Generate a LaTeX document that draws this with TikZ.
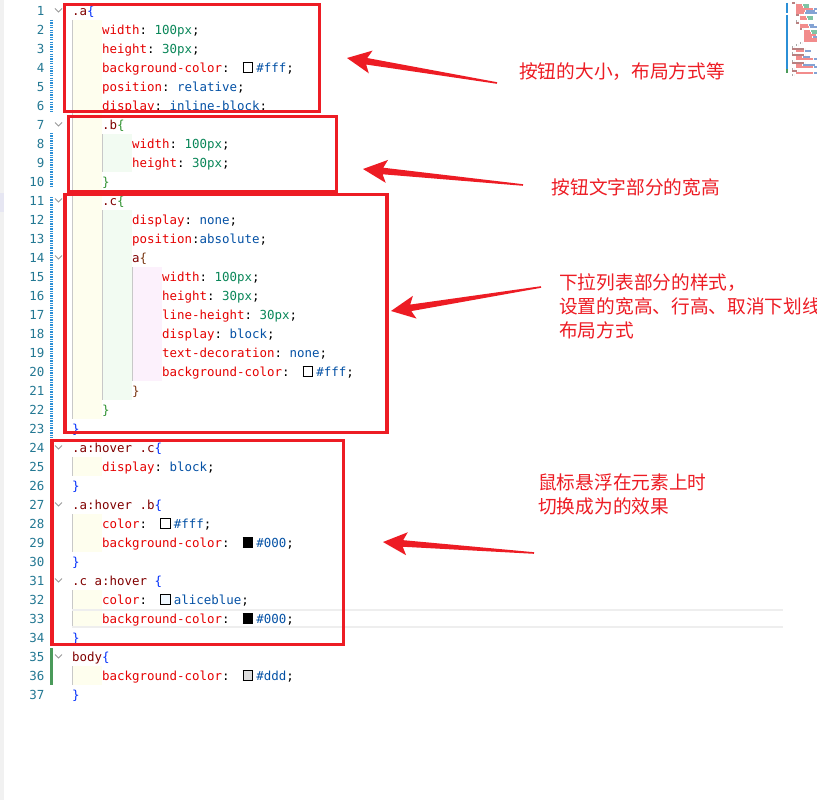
\documentclass[tikz,border=0pt]{standalone}
\usepackage{fontspec}
\usetikzlibrary{calc}
\newfontfamily\codefont{DejaVu Sans Mono}
\newfontfamily\cjk{Noto Sans CJK SC}
\definecolor{csel}{HTML}{800000}
\definecolor{cprop}{HTML}{E50000}
\definecolor{cnum}{HTML}{098658}
\definecolor{cval}{HTML}{0451A5}
\definecolor{cba}{HTML}{0431FA}
\definecolor{cbb}{HTML}{319331}
\definecolor{cbc}{HTML}{7B3814}
\definecolor{clnum}{HTML}{237893}
\definecolor{cred}{HTML}{ED1C24}
\definecolor{tinta}{HTML}{FEFEEE}
\definecolor{tintb}{HTML}{F2FBF2}
\definecolor{tintc}{HTML}{FCF1FC}
\definecolor{guide}{HTML}{C8C8C8}
\definecolor{hl}{HTML}{EEEEEE}
\definecolor{chev}{HTML}{9A9A9A}
\definecolor{modblue}{HTML}{2B8FD6}
\definecolor{modgreen}{HTML}{4A9A5A}
\definecolor{leftgray}{HTML}{F1F1F1}
\definecolor{leftlav}{HTML}{E6E6F2}
\definecolor{alice}{HTML}{F0F8FF}
\definecolor{gddd}{HTML}{DDDDDD}
\definecolor{mmred}{HTML}{F28C8C}
\definecolor{mmgreen}{HTML}{7FC4A4}
\definecolor{mmblue}{HTML}{84A3D4}
\definecolor{mmsel}{HTML}{B98080}
\definecolor{mmgray}{HTML}{A8A8A8}
\newcommand\Sel[1]{\textcolor{csel}{#1}}
\newcommand\Prp[1]{\textcolor{cprop}{#1}}
\newcommand\Num[1]{\textcolor{cnum}{#1}}
\newcommand\Val[1]{\textcolor{cval}{#1}}
\newcommand\Ba[1]{\textcolor{cba}{#1}}
\newcommand\Bb[1]{\textcolor{cbb}{#1}}
\newcommand\Bc[1]{\textcolor{cbc}{#1}}
\newcommand\swbox[1]{\hspace{5.5pt}\raisebox{0.5pt}{\setlength\fboxsep{0pt}\setlength\fboxrule{0.8pt}\fcolorbox{black}{#1}{\rule{0pt}{8.6pt}\hspace{8.9pt}}}\hspace{3.2pt}}
\newcommand\fatarrow[2]{%
  \coordinate (aN) at ($(#2)!20pt!(#1)$);
  \coordinate (aH) at ($(#2)!24pt!(#1)$);
  \fill[cred] ($(#1)!0.8pt!-90:(#2)$) -- ($(aN)!3.3pt!90:(#1)$) -- ($(aH)!11.5pt!90:(#1)$) -- (#2) -- ($(aH)!11.5pt!-90:(#1)$) -- ($(aN)!3.3pt!-90:(#1)$) -- ($(#1)!0.8pt!90:(#2)$) -- cycle;}
\tikzset{
  code/.style={inner sep=0pt, anchor=base west, font=\codefont\fontsize{12.45pt}{15pt}\selectfont\frenchspacing},
  lnum/.style={inner sep=0pt, anchor=base east, text=clnum, font=\codefont\fontsize{12.45pt}{15pt}\selectfont},
  note/.style={inner sep=0pt, anchor=west, text=cred, font=\cjk\fontsize{18.7pt}{22pt}\selectfont},
  redbox/.style={draw=cred, line width=3.3pt},
  chevron/.style={draw=chev, line width=0.8pt},
}
\begin{document}
\begin{tikzpicture}[x=1pt,y=-1pt]
\useasboundingbox (0,0) rectangle (817,800);
\fill[white] (0,0) rectangle (817,800);
% left strip
\fill[leftgray] (0,0) rectangle (3.5,800);
\fill[leftlav] (0,193) rectangle (3.5,212);
% indentation tints
\fill[tinta] (72,20) rectangle (102,419);
\fill[tinta] (72,457) rectangle (102,476);
\fill[tinta] (72,514) rectangle (102,552);
\fill[tinta] (72,590) rectangle (102,628);
\fill[tinta] (72,666) rectangle (102,685);
\fill[tintb] (102,134) rectangle (132,172);
\fill[tintb] (102,210) rectangle (132,400);
\fill[tintc] (132,267) rectangle (162,381);
% indent guides
\draw[guide, line width=0.8pt] (72.4,20) -- (72.4,419);
\draw[guide, line width=0.8pt] (72.4,457) -- (72.4,476);
\draw[guide, line width=0.8pt] (72.4,514) -- (72.4,552);
\draw[guide, line width=0.8pt] (72.4,590) -- (72.4,628);
\draw[guide, line width=0.8pt] (72.4,666) -- (72.4,685);
\draw[guide, line width=0.8pt] (102.4,134) -- (102.4,172);
\draw[guide, line width=0.8pt] (102.4,210) -- (102.4,400);
\draw[guide, line width=0.8pt] (132.4,267) -- (132.4,381);
% current line highlight (line 33)
\draw[hl, line width=2pt] (72,610) -- (783,610);
\draw[hl, line width=2pt] (72,627) -- (783,627);
% modified bars
\draw[modblue, line width=2.6pt, dash pattern=on 1.3pt off 1.1pt] (51.5,20) -- (51.5,113);
\draw[modblue, line width=2.6pt, dash pattern=on 1.3pt off 1.1pt] (51.5,133) -- (51.5,187);
\draw[modblue, line width=2.6pt, dash pattern=on 1.3pt off 1.1pt] (51.5,197) -- (51.5,438);
\draw[modgreen, line width=2.6pt] (51.5,648) -- (51.5,685);
% line numbers
\foreach \i in {1,...,37} {
  \node[lnum] (n\i) at (44.5,{15.3+19*(\i-1)}) {\i};
}
% fold chevrons
\foreach \i in {1,7,11,14,24,27,31,35} {
  \draw[chevron] (55,{8.5+19*(\i-1)}) -- (58.5,{12+19*(\i-1)}) -- (62,{8.5+19*(\i-1)});
}
% code
\node[code] (c1)  at (72,15.3)  {\Sel{.a}\Ba{\{}};
\node[code] (c2)  at (102,34.3) {\Prp{width}: \Num{100px};};
\node[code] (c3)  at (102,53.3) {\Prp{height}: \Num{30px};};
\node[code] (c4)  at (102,72.3) {\Prp{background-color}: \swbox{white}\Val{\#fff};};
\node[code] (c5)  at (102,91.3) {\Prp{position}: \Val{relative};};
\node[code] (c6)  at (102,110.3) {\Prp{display}: \Val{inline-block};};
\node[code] (c7)  at (102,129.3) {\Sel{.b}\Bb{\{}};
\node[code] (c8)  at (132,148.3) {\Prp{width}: \Num{100px};};
\node[code] (c9)  at (132,167.3) {\Prp{height}: \Num{30px};};
\node[code] (c10) at (102,186.3) {\Bb{\}}};
\node[code] (c11) at (102,205.3) {\Sel{.c}\Bb{\{}};
\node[code] (c12) at (132,224.3) {\Prp{display}: \Val{none};};
\node[code] (c13) at (132,243.3) {\Prp{position}:\Val{absolute};};
\node[code] (c14) at (132,262.3) {\Sel{a}\Bc{\{}};
\node[code] (c15) at (162,281.3) {\Prp{width}: \Num{100px};};
\node[code] (c16) at (162,300.3) {\Prp{height}: \Num{30px};};
\node[code] (c17) at (162,319.3) {\Prp{line-height}: \Num{30px};};
\node[code] (c18) at (162,338.3) {\Prp{display}: \Val{block};};
\node[code] (c19) at (162,357.3) {\Prp{text-decoration}: \Val{none};};
\node[code] (c20) at (162,376.3) {\Prp{background-color}: \swbox{white}\Val{\#fff};};
\node[code] (c21) at (132,395.3) {\Bc{\}}};
\node[code] (c22) at (102,414.3) {\Bb{\}}};
\node[code] (c23) at (72,433.3) {\Ba{\}}};
\node[code] (c24) at (72,452.3) {\Sel{.a:hover .c}\Ba{\{}};
\node[code] (c25) at (102,471.3) {\Prp{display}: \Val{block};};
\node[code] (c26) at (72,490.3) {\Ba{\}}};
\node[code] (c27) at (72,509.3) {\Sel{.a:hover .b}\Ba{\{}};
\node[code] (c28) at (102,528.3) {\Prp{color}: \swbox{white}\Val{\#fff};};
\node[code] (c29) at (102,547.3) {\Prp{background-color}: \swbox{black}\Val{\#000};};
\node[code] (c30) at (72,566.3) {\Ba{\}}};
\node[code] (c31) at (72,585.3) {\Sel{.c a:hover} \Ba{\{}};
\node[code] (c32) at (102,604.3) {\Prp{color}: \swbox{alice}\Val{aliceblue};};
\node[code] (c33) at (102,623.3) {\Prp{background-color}: \swbox{black}\Val{\#000};};
\node[code] (c34) at (72,642.3) {\Ba{\}}};
\node[code] (c35) at (72,661.3) {\Sel{body}\Ba{\{}};
\node[code] (c36) at (102,680.3) {\Prp{background-color}: \swbox{gddd}\Val{\#ddd};};
\node[code] (c37) at (72,699.3) {\Ba{\}}};
% minimap
\draw[modblue, line width=1.7pt] (786.8,3) -- (786.8,13);
\draw[modblue, line width=1.7pt] (786.8,15) -- (786.8,69);
\draw[modgreen, line width=1.7pt] (786.8,69) -- (786.8,73);
\foreach \i/\ind/\la/\ca/\lb/\cb in {
 1/0/3/mmsel/0/mmgray, 2/1/6/mmred/6/mmgreen, 3/1/7/mmred/5/mmgreen, 4/1/17/mmred/7/mmblue,
 5/1/9/mmred/9/mmblue, 6/1/8/mmred/13/mmblue, 7/1/3/mmsel/0/mmgray, 8/2/6/mmred/6/mmgreen,
 9/2/7/mmred/5/mmgreen, 10/1/1/mmgray/0/mmgray, 11/1/3/mmsel/0/mmgray, 12/2/8/mmred/5/mmblue,
 13/2/9/mmred/9/mmblue, 14/2/2/mmsel/0/mmgray, 15/3/6/mmred/6/mmgreen, 16/3/7/mmred/5/mmgreen,
 17/3/12/mmred/5/mmgreen, 18/3/8/mmred/6/mmblue, 19/3/16/mmred/5/mmblue, 20/3/17/mmred/7/mmblue,
 21/2/1/mmgray/0/mmgray, 22/1/1/mmgray/0/mmgray, 23/0/1/mmgray/0/mmgray, 24/0/12/mmsel/0/mmgray,
 25/1/8/mmred/6/mmblue, 26/0/1/mmgray/0/mmgray, 27/0/12/mmsel/0/mmgray, 28/1/6/mmred/7/mmblue,
 29/1/17/mmred/7/mmblue, 30/0/1/mmgray/0/mmgray, 31/0/12/mmsel/0/mmgray, 32/1/6/mmred/12/mmblue,
 33/1/17/mmred/7/mmblue, 34/0/1/mmgray/0/mmgray, 35/0/5/mmsel/0/mmgray, 36/1/17/mmred/7/mmblue,
 37/0/1/mmgray/0/mmgray} {
  \fill[\ca] ({792+4*\ind},{2.4+2*(\i-1)}) rectangle ++(\la,1.7);
  \fill[\cb] ({792+4*\ind+\la+1},{2.4+2*(\i-1)}) rectangle ++(\lb,1.7);
}
% red boxes
\draw[redbox] (64.3,4.3) rectangle (319.7,111.2);
\draw[redbox] (68.7,116.3) rectangle (336.7,191.7);
\draw[redbox] (65,194.7) rectangle (387,432.5);
\draw[redbox] (52,440.3) rectangle (343.7,644.5);
% arrows
\coordinate (t1) at (497,83);  \coordinate (h1) at (347,58);
\coordinate (t2) at (523,185); \coordinate (h2) at (363,169);
\coordinate (t3) at (541,287); \coordinate (h3) at (391,311);
\coordinate (t4) at (534,553); \coordinate (h4) at (383,542);
\fatarrow{t1}{h1}
\fatarrow{t2}{h2}
\fatarrow{t3}{h3}
\fatarrow{t4}{h4}
% notes
\node[note] (m1) at (519,71.5) {按钮的大小，布局方式等};
\node[note] (m2) at (551.5,187.5) {按钮文字部分的宽高};
\node[note] (m3a) at (559,282.5) {下拉列表部分的样式，};
\node[note] (m3b) at (559,306.5) {设置的宽高、行高、取消下划线};
\node[note] (m3c) at (559,330) {布局方式};
\node[note] (m4a) at (538,482) {鼠标悬浮在元素上时};
\node[note] (m4b) at (538,506.5) {切换成为的效果};
\end{tikzpicture}
\end{document}
